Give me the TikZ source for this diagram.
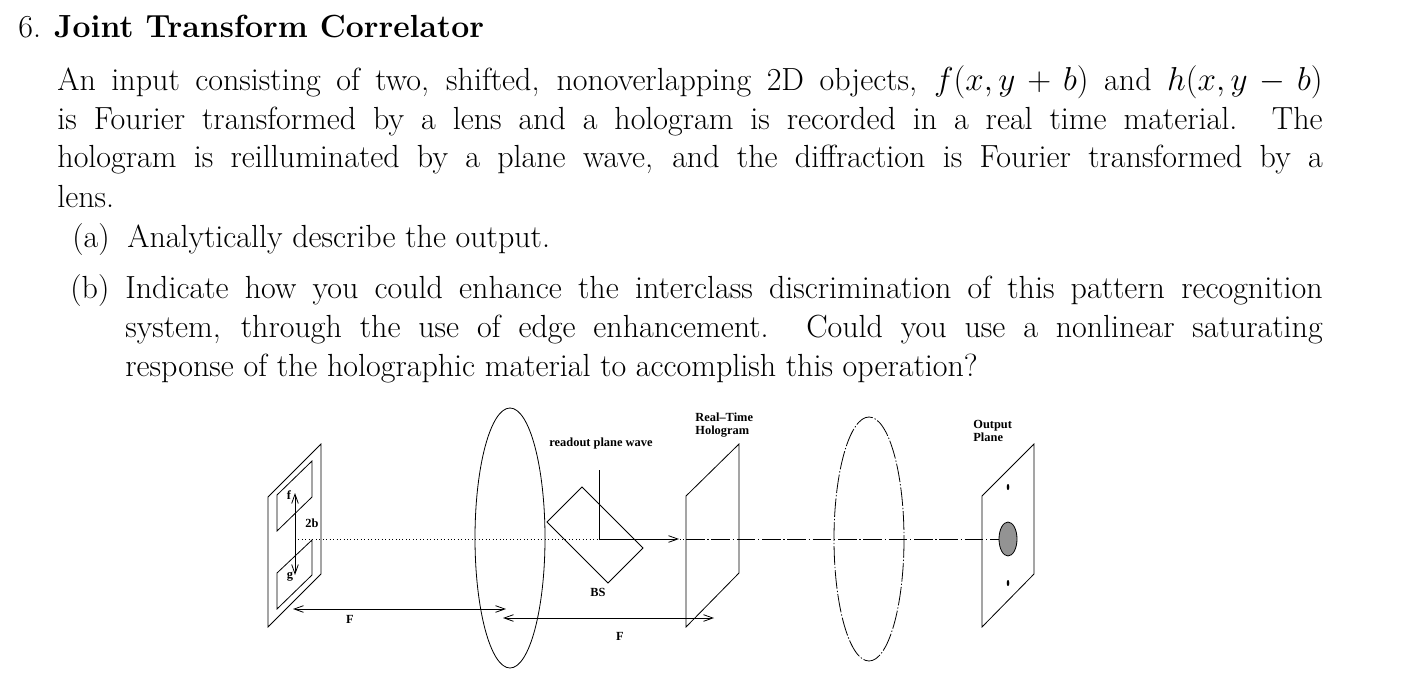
\documentclass[tikz,border=0pt]{standalone}
\usepackage{fontspec}
\newfontfamily\lab{Liberation Serif}
\usetikzlibrary{arrows.meta}
\begin{document}
\begin{tikzpicture}[x=0.75pt,y=-0.75pt,line width=0.6pt,
  body/.style={inner sep=0,font=\fontsize{24}{29.25}\selectfont,align=justify},
  lbl/.style={inner sep=0,font=\lab\bfseries\fontsize{9.3}{10}\selectfont,align=left},
  arr/.style={-{Straight Barb[length=7pt,width=5pt]}},
  darr/.style={{Straight Barb[length=7pt,width=5pt]}-{Straight Barb[length=7pt,width=5pt]}}]
\useasboundingbox (0,0) rectangle (1406,674);
% text
\node[inner sep=0,anchor=base west,font=\fontsize{24}{29.25}\selectfont] (h) at (18,38) {6. \textbf{Joint Transform Correlator}};
\node[body,anchor=base west,text width=949pt] (p) at (57,90) {An input consisting of two, shifted, nonoverlapping 2D objects, $f(x,y+b)$ and $h(x,y-b)$\linebreak is Fourier transformed by a lens and a hologram is recorded in a real time material. The\linebreak hologram is reilluminated by a plane wave, and the diffraction is Fourier transformed by a\linebreak lens.};
\node[body,anchor=base west] (al) at (72,247) {(a)};
\node[body,anchor=base west] (a) at (127,247) {Analytically describe the output.};
\node[body,anchor=base west] (bl) at (70,298) {(b)};
\node[body,anchor=base west,text width=898pt] (b) at (125,298) {Indicate how you could enhance the interclass discrimination of this pattern recognition\linebreak system, through the use of edge enhancement. Could you use a nonlinear saturating\linebreak response of the holographic material to accomplish this operation?};
% input plane
\draw (268,497) -- (321,444) -- (321,574) -- (268,627) -- cycle;
\draw (277,495) -- (312,461) -- (312,497) -- (277,531) -- cycle;
\draw (277,573) -- (312,540) -- (312,575) -- (277,609) -- cycle;
\coordinate (ft) at (295,493); \coordinate (gb) at (295,575);
\draw[darr] (ft) -- (gb);
\node[lbl] (f) at (289,495) {f};
\node[lbl] (g) at (290,577) {g};
\node[lbl] (tb) at (312,523) {2b};
% axis
\coordinate (a0) at (295,539);
\coordinate (hol) at (686,539);
\coordinate (spot) at (999,539);
\draw[dotted] (a0) -- (hol);
\draw[dash pattern=on 14pt off 2pt on 1pt off 2pt] (hol) -- (spot);
% lens 1
\draw (510,538) ellipse [x radius=35, y radius=130];
% BS
\draw (582,487) -- (643,548) -- (608,583) -- (547,522) -- cycle;
\node[lbl] (bs) at (598,592) {BS};
\coordinate (r0) at (599,470); \coordinate (r1) at (599,539); \coordinate (r2) at (679,539);
\draw[arr] (r0) -- (r1) -- (r2);
\node[lbl] (ro) at (601,444) {readout plane wave};
% F arrows
\coordinate (f1a) at (293,609); \coordinate (f1b) at (506,609);
\draw[darr] (f1a) -- (f1b);
\node[lbl] (F1) at (350,619) {F};
\coordinate (f2a) at (503,618); \coordinate (f2b) at (714,618);
\draw[darr] (f2a) -- (f2b);
\node[lbl] (F2) at (620,636) {F};
% hologram
\draw (686,496) -- (739,444) -- (739,573) -- (686,627) -- cycle;
\node[lbl,anchor=north west] (rt) at (695,412) {Real–Time\\Hologram};
% lens 2
\draw[dash pattern=on 14pt off 1.5pt on 1pt off 1.5pt] (869,539) ellipse [x radius=35, y radius=122];
% output plane
\draw (982,496) -- (1034,444) -- (1034,574) -- (982,627) -- cycle;
\draw[fill=gray!85] (1008,539) ellipse [x radius=9, y radius=17];
\fill (1008,487) ellipse [x radius=1.3, y radius=3];
\fill (1008,583) ellipse [x radius=1.3, y radius=3];
\node[lbl,anchor=north west] (op) at (973,420) {Output\\Plane};
\end{tikzpicture}
\end{document}
